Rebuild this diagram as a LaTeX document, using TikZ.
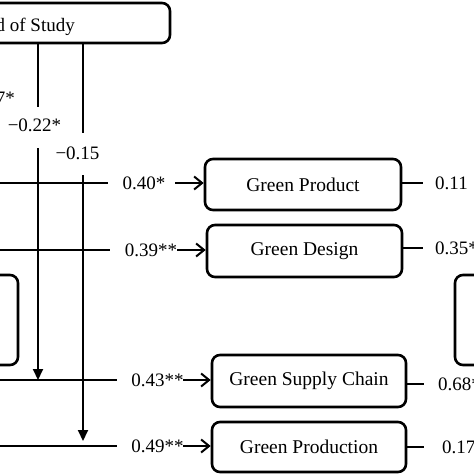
\documentclass[tikz,border=0pt]{standalone}
\usepackage{fontspec}
\setmainfont{Liberation Serif}
\usetikzlibrary{arrows.meta}
\begin{document}
\begin{tikzpicture}[x=1pt,y=-1pt,
 box/.style={draw, line width=2.6pt, rounded corners=8pt, inner sep=0pt, font=\fontsize{19.5}{22}\selectfont},
 lbl/.style={inner sep=0pt, font=\fontsize{19}{22}\selectfont},
 conn/.style={line width=2pt},
 harr/.style={conn, -{Straight Barb[length=8pt,width=13pt,line width=2pt]}},
 varr/.style={conn, -{Triangle[length=11pt,width=10pt]}}]
\useasboundingbox (0,0) rectangle (474,474);
\clip (0,0) rectangle (474,474);
% boxes
\node[box, minimum width=370pt, minimum height=40pt] (study) at (-15,23) {};
\node[lbl, anchor=base east] (studytxt) at (75,31) {Period of Study};
\node[box, minimum width=196pt, minimum height=51pt] (gp) at (303,184.5) {Green Product};
\node[box, minimum width=195pt, minimum height=52pt] (gd) at (304.5,251) {Green Design};
\node[box, minimum width=194pt, minimum height=52pt] (gs) at (309,381) {Green Supply Chain};
\node[box, minimum width=194pt, minimum height=50pt] (gpr) at (309,447) {Green Production};
\node[box, minimum width=118pt, minimum height=90pt] (lb) at (-41,320) {};
\node[box, minimum width=104pt, minimum height=90pt] (rb) at (507,320) {};
% labels
\node[lbl, anchor=east] (l7) at (15,98) {7*};
\node[lbl] (m22) at (34.5,125) {−0.22*};
\node[lbl] (m15) at (77.5,153) {−0.15};
\node[lbl] (p40) at (144,183) {0.40*};
\node[lbl] (p39) at (151,250) {0.39**};
\node[lbl] (p43) at (157.5,380) {0.43**};
\node[lbl] (p49) at (157.5,446) {0.49**};
\node[lbl, anchor=west] (r11) at (435,183) {0.11};
\node[lbl, anchor=west] (r35) at (435,248) {0.35**};
\node[lbl, anchor=west] (r68) at (438,384) {0.68**};
\node[lbl, anchor=west] (r17) at (442,447) {0.17*};
% coordinates
\coordinate (v1a) at (38,107);
\coordinate (v1b) at (38,148);
\coordinate (v1c) at (38,380);
\coordinate (v2a) at (83,133);
\coordinate (v2b) at (83,175);
\coordinate (v2c) at (83,441);
\coordinate (h1s) at (0,183);   \coordinate (h1e) at (108,183); \coordinate (h1a) at (175,183);
\coordinate (h2s) at (0,250);   \coordinate (h2e) at (110,250); \coordinate (h2a) at (177,250);
\coordinate (h3s) at (0,380);   \coordinate (h3e) at (117,380); \coordinate (h3a) at (183,380);
\coordinate (h4s) at (0,446);   \coordinate (h4e) at (117,446); \coordinate (h4a) at (183,446);
\coordinate (r1) at (423,183);
\coordinate (r2) at (423,248);
\coordinate (r3) at (424,384);
\coordinate (r4) at (424,447);
% vertical lines
\draw[conn] (study.south -| v1a) -- (v1a);
\draw[varr] (v1b) -- (v1c);
\draw[conn] (study.south -| v2a) -- (v2a);
\draw[varr] (v2b) -- (v2c);
% horizontal lines
\draw[conn] (h1s) -- (h1e);
\draw[harr] (h1a) -- (h1a -| gp.west);
\draw[conn] (h2s) -- (h2e);
\draw[harr] (h2a) -- (h2a -| gd.west);
\draw[conn] (h3s) -- (h3e);
\draw[harr] (h3a) -- (h3a -| gs.west);
\draw[conn] (h4s) -- (h4e);
\draw[harr] (h4a) -- (h4a -| gpr.west);
% right side
\draw[conn] (r1 -| gp.east) -- (r1);
\draw[conn] (r2 -| gd.east) -- (r2);
\draw[conn] (r3 -| gs.east) -- (r3);
\draw[conn] (r4 -| gpr.east) -- (r4);
\end{tikzpicture}
\end{document}
